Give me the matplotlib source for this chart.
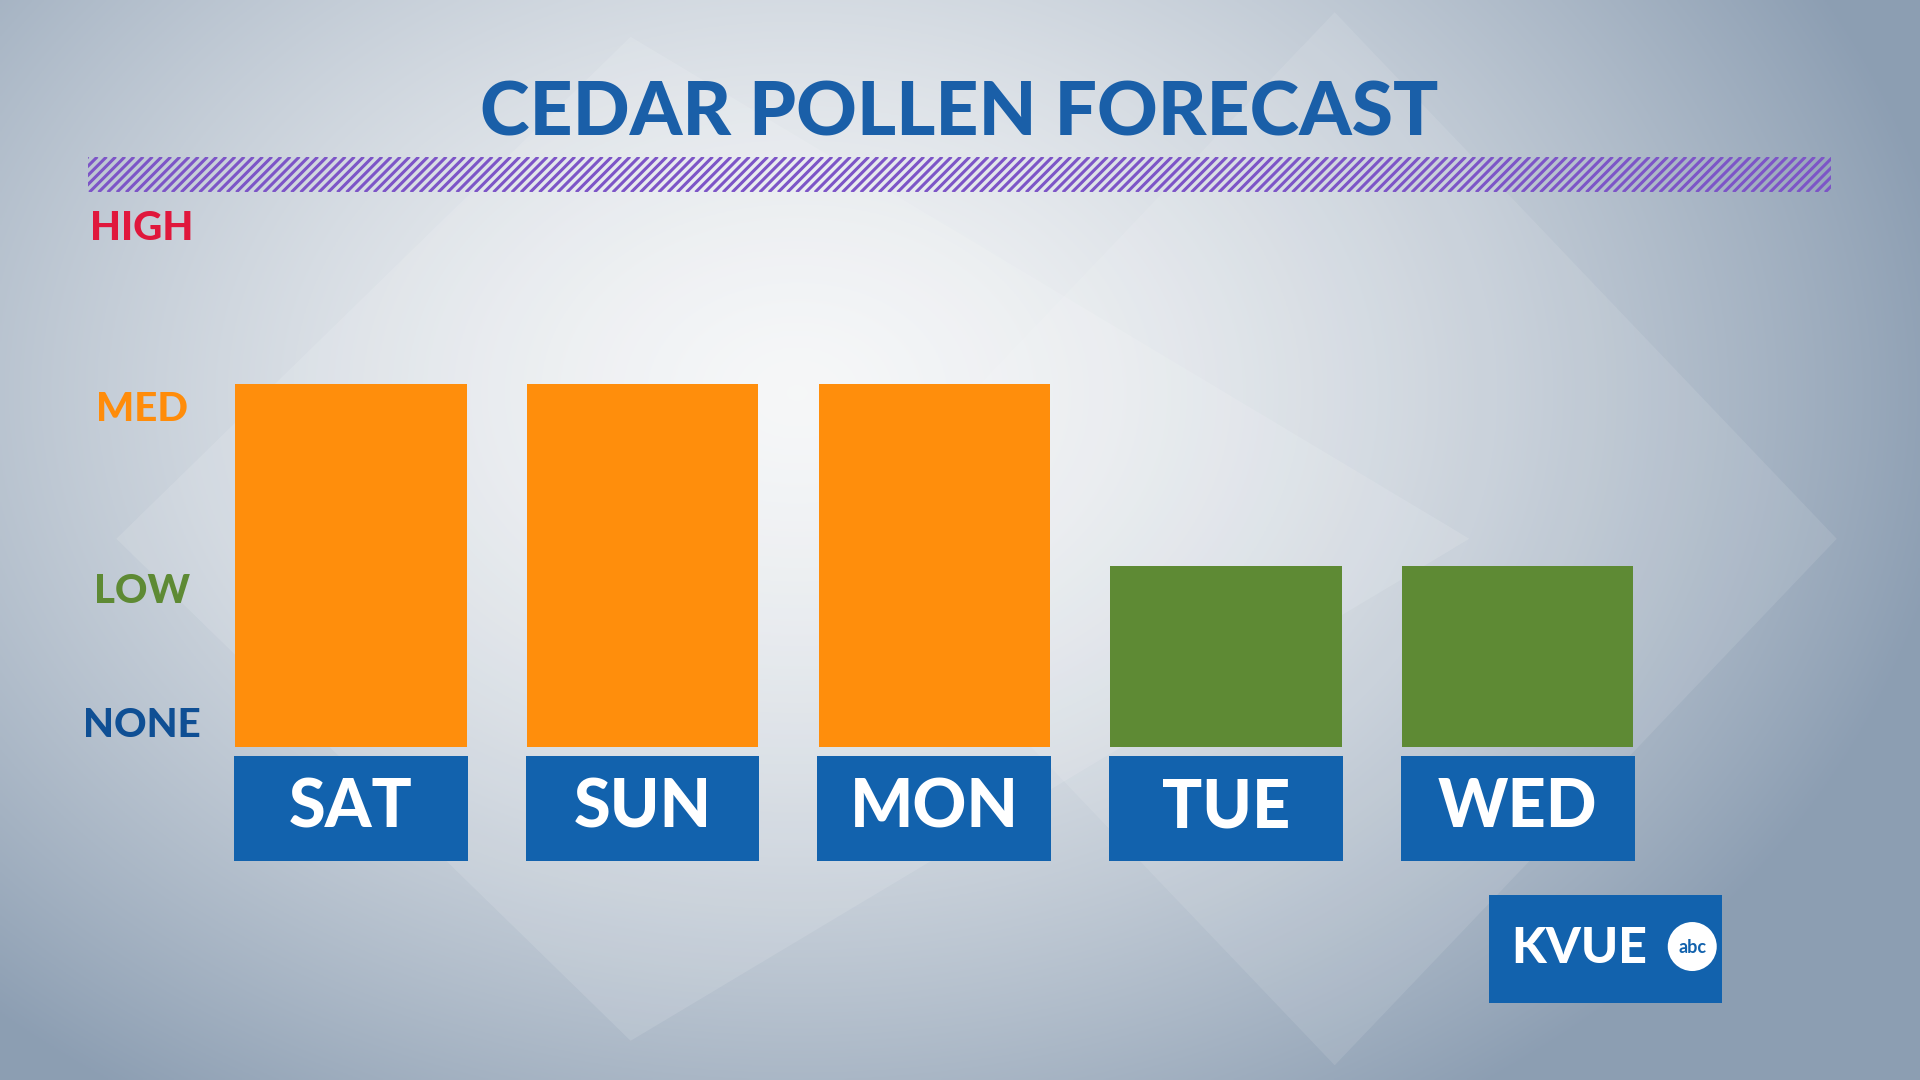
import numpy as np
import matplotlib
matplotlib.use("Agg")
from matplotlib import pyplot as plt
from matplotlib.patches import Rectangle, Polygon, Circle

days = ["SAT", "SUN", "MON", "TUE", "WED"]
values = [2, 2, 2, 1, 1]          # 0 NONE, 1 LOW, 2 MED, 3 HIGH
levels = ["NONE", "LOW", "MED", "HIGH"]
level_colors = ["#0f4f94", "#5e8a34", "#ff8c0a", "#e0173c"]
bar_colors = {1: "#5e8a34", 2: "#ff8e0c"}

W, H = 1568, 882  # reference layout units
plt.rcParams['font.family'] = ['Lato', 'DejaVu Sans']
fig = plt.figure(figsize=(19.2, 10.8), dpi=100)

# background gradient
bg = fig.add_axes([0, 0, 1, 1])
yy, xx = np.mgrid[0:H:2, 0:W:2]
d = np.sqrt(((xx - 650) / 950.0) ** 2 + ((yy - 320) / 700.0) ** 2)
d = np.clip(d, 0, 1)
c0 = np.array([0.96, 0.965, 0.97])
c1 = np.array([0.55, 0.62, 0.70])
img = c0 + (c1 - c0) * d[..., None] ** 1.5
bg.imshow(img, extent=[0, W, H, 0], aspect='auto')
for pts, a in [([(515, 30), (1200, 440), (515, 850), (95, 440)], 0.12),
               ([(1090, 10), (1500, 440), (1090, 870), (680, 440)], 0.10)]:
    bg.add_patch(Polygon(pts, closed=True, fc="white", ec="none", alpha=a))
bg.set_xlim(0, W); bg.set_ylim(H, 0); bg.axis("off")

# title and hatched band
bg.text(783, 93, "CEDAR POLLEN FORECAST", color="#1a5fa8", fontsize=54,
        fontweight="black", ha="center", va="center")
band = Rectangle((72, 128), 1423, 29, fc="none", ec="none")
bg.add_patch(band)
for x0 in np.arange(72 - 29, 1495, 7.5):
    ln, = bg.plot([x0, x0 + 29], [157, 128], color="#7d55c7", lw=2.2,
                  solid_capstyle="butt")
    ln.set_clip_path(band)

# bars
unit = 148.0
ax = fig.add_axes([0, 1 - 610 / H, 1, 3 * unit / H])
ax.patch.set_alpha(0)
step, first = 238.25, 286.5
ax.set_xlim(-first / step, (W - first) / step)
ax.set_ylim(0, 3)
x = np.arange(len(days))
ax.bar(x, values, width=189 / step, color=[bar_colors[v] for v in values])
ax.bar(x, 86 / unit, bottom=-93 / unit, width=191 / step, color="#1262ad",
       clip_on=False)
for xi, d_ in zip(x, days):
    ax.text(xi, -50 / unit, d_, color="white", fontsize=48, fontweight="black",
            ha="center", va="center", clip_on=False)
for i, (lab, col) in enumerate(zip(levels, level_colors)):
    yv = i - 0.14 if i else 0.12
    ax.text(116 / step - first / step, yv, lab, color=col, fontsize=29,
            fontweight="black", ha="center", va="center", clip_on=False)
ax.axis("off")

# logo
bg.add_patch(Rectangle((1216, 731), 190, 88, fc="#1262ad", ec="none"))
bg.text(1290, 775, "KVUE", color="white", fontsize=36, fontweight="black",
        ha="center", va="center")
bg.add_patch(Circle((1382, 773), 20, fc="white", ec="none"))
bg.text(1382, 774, "abc", color="#1262ad", fontsize=13, fontweight="bold",
        ha="center", va="center")

fig.savefig("out.png", dpi=100)
